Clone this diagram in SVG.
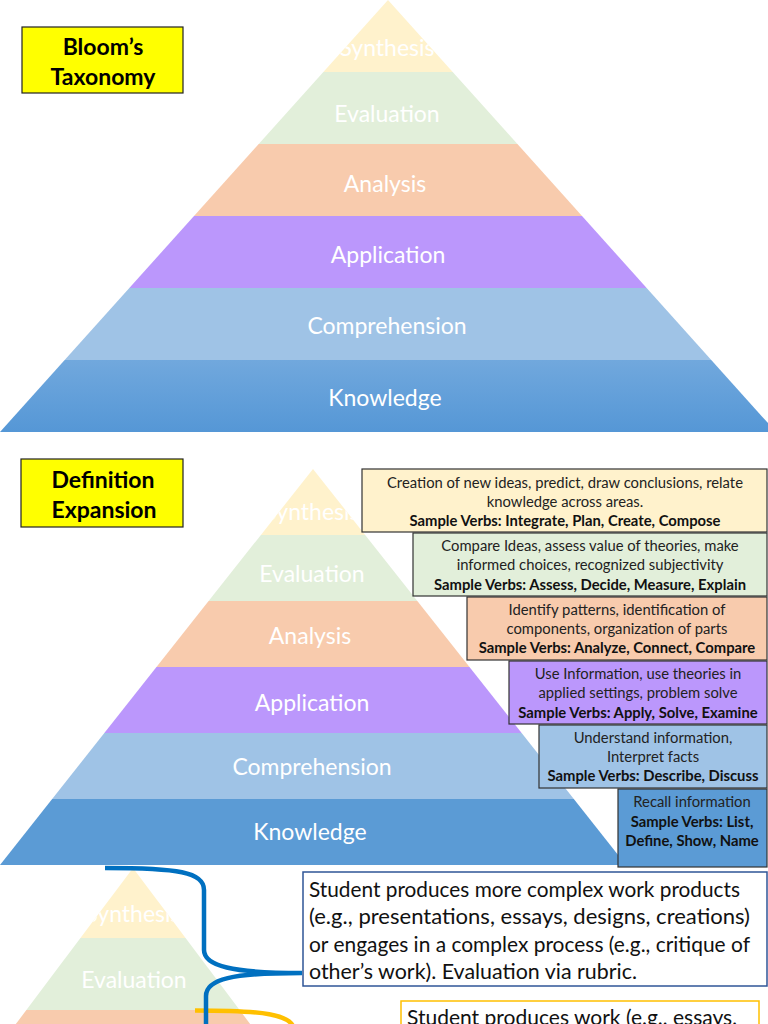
<svg xmlns="http://www.w3.org/2000/svg" width="768" height="1024" viewBox="0 0 768 1024">
<style>
.lbl{font-family:Lato,"Liberation Sans",sans-serif;font-size:23px;fill:#ffffff;text-anchor:middle}
.title{font-family:Lato,"Liberation Sans",sans-serif;font-size:23px;font-weight:bold;fill:#000;text-anchor:middle}
.tbox{fill:#ffff00;stroke:#222;stroke-width:1.2}
.dbox{stroke:#333;stroke-width:1.2}
.dt{font-family:Lato,"Liberation Sans",sans-serif;font-size:14.8px;fill:#222;text-anchor:middle}
.db{font-weight:bold;fill:#111}
.bt{font-family:Lato,"Liberation Sans",sans-serif;font-size:20.5px;fill:#111}
.syn{fill:#fff2cc}.eva{fill:#e2efda}.ana{fill:#f8cbad}.app{fill:#bb97fc}.com{fill:#9fc3e6}.kno{fill:#5b9bd5}
</style>
<defs>
<linearGradient id="kg" x1="0" y1="0" x2="0" y2="1"><stop offset="0" stop-color="#71a8dd"/><stop offset="1" stop-color="#5597d6"/></linearGradient>
<clipPath id="tri1"><polygon points="388,0 0,432 776,432"/></clipPath>
<clipPath id="tri2"><polygon points="313,469 0,865 626,865"/></clipPath>
<clipPath id="tri3"><polygon points="133,868 -60,1125 326,1125"/></clipPath>
</defs>
<rect width="768" height="1024" fill="#ffffff"/>

<!-- Section 1 -->
<g id="title1"><rect class="tbox" x="22" y="27" width="161" height="66"/><text class="title" x="103" y="55">Bloom’s</text><text class="title" x="103" y="85">Taxonomy</text></g>
<g id="pyramid1" clip-path="url(#tri1)">
<g id="p1-synthesis"><rect class="syn" x="0" y="0" width="768" height="72"/><text class="lbl" x="387" y="56">Synthesis</text></g>
<g id="p1-evaluation"><rect class="eva" x="0" y="72" width="768" height="72"/><text class="lbl" x="387" y="122">Evaluation</text></g>
<g id="p1-analysis"><rect class="ana" x="0" y="144" width="768" height="72"/><text class="lbl" x="385" y="192">Analysis</text></g>
<g id="p1-application"><rect class="app" x="0" y="216" width="768" height="72"/><text class="lbl" x="388" y="263">Application</text></g>
<g id="p1-comprehension"><rect class="com" x="0" y="288" width="768" height="72"/><text class="lbl" x="387" y="334">Comprehension</text></g>
<g id="p1-knowledge"><rect fill="url(#kg)" x="0" y="360" width="776" height="72"/><text class="lbl" x="385" y="406">Knowledge</text></g>
</g>

<!-- Section 2 -->
<g id="title2"><rect class="tbox" x="21" y="459" width="162" height="68"/><text class="title" x="103" y="488">Definition</text><text class="title" x="104" y="518">Expansion</text></g>
<g id="pyramid2" clip-path="url(#tri2)">
<g id="p2-synthesis"><rect class="syn" x="0" y="469" width="768" height="66"/><text class="lbl" x="312" y="520">Synthesis</text></g>
<g id="p2-evaluation"><rect class="eva" x="0" y="535" width="768" height="66"/><text class="lbl" x="312" y="582">Evaluation</text></g>
<g id="p2-analysis"><rect class="ana" x="0" y="601" width="768" height="66"/><text class="lbl" x="310" y="644">Analysis</text></g>
<g id="p2-application"><rect class="app" x="0" y="667" width="768" height="66"/><text class="lbl" x="312" y="711">Application</text></g>
<g id="p2-comprehension"><rect class="com" x="0" y="733" width="768" height="66"/><text class="lbl" x="312" y="775">Comprehension</text></g>
<g id="p2-knowledge"><rect class="kno" x="0" y="799" width="768" height="67"/><text class="lbl" x="310" y="840">Knowledge</text></g>
</g>
<g id="d-synthesis"><rect class="dbox syn" x="362" y="469" width="405" height="63"/>
<text class="dt" x="565" y="488">Creation of new ideas, predict, draw conclusions, relate</text>
<text class="dt" x="565" y="507">knowledge across areas.</text>
<text class="dt db" x="565" y="526">Sample Verbs: Integrate, Plan, Create, Compose</text></g>
<g id="d-evaluation"><rect class="dbox eva" x="413" y="533" width="354" height="63"/>
<text class="dt" x="590" y="551">Compare Ideas, assess value of theories, make</text>
<text class="dt" x="590" y="570">informed choices, recognized subjectivity</text>
<text class="dt db" x="590" y="590">Sample Verbs: Assess, Decide, Measure, Explain</text></g>
<g id="d-analysis"><rect class="dbox ana" x="467" y="597" width="300" height="63"/>
<text class="dt" x="617" y="615">Identify patterns, identification of</text>
<text class="dt" x="617" y="634">components, organization of parts</text>
<text class="dt db" x="617" y="653">Sample Verbs: Analyze, Connect, Compare</text></g>
<g id="d-application"><rect class="dbox app" x="509" y="661" width="258" height="63"/>
<text class="dt" x="638" y="679">Use Information, use theories in</text>
<text class="dt" x="638" y="698">applied settings, problem solve</text>
<text class="dt db" x="638" y="718">Sample Verbs: Apply, Solve, Examine</text></g>
<g id="d-comprehension"><rect class="dbox com" x="539" y="725" width="228" height="63"/>
<text class="dt" x="653" y="743">Understand information,</text>
<text class="dt" x="653" y="762">Interpret facts</text>
<text class="dt db" x="653" y="781">Sample Verbs: Describe, Discuss</text></g>
<g id="d-knowledge"><rect class="dbox kno" x="618" y="789" width="149" height="78"/>
<text class="dt" x="692" y="807">Recall information</text>
<text class="dt db" x="692" y="827">Sample Verbs: List,</text>
<text class="dt db" x="692" y="846">Define, Show, Name</text></g>

<!-- Section 3 -->
<g id="pyramid3" clip-path="url(#tri3)">
<g id="p3-synthesis"><rect class="syn" x="0" y="866" width="400" height="72"/><text class="lbl" x="133" y="922">Synthesis</text></g>
<g id="p3-evaluation"><rect class="eva" x="0" y="938" width="400" height="72"/><text class="lbl" x="134" y="988">Evaluation</text></g>
<g id="p3-analysis"><rect class="ana" x="0" y="1010" width="400" height="80"/></g>
</g>
<g id="connectors" fill="none" stroke-linecap="butt">
<path d="M195,1010.5 C262,1010.5 293,1014 294,1030" stroke="#ffc000" stroke-width="4.5"/>
<path d="M105,868 C178,868 204,872 204,890 L204,950 C204,966 232,973 302,973 C232,973 206,979 206,996 L206,1030" stroke="#0070c0" stroke-width="4.5"/>
</g>
<g id="b-complex"><rect x="303" y="872" width="464" height="114" fill="#ffffff" stroke="#2f5597" stroke-width="1.5"/>
<text class="bt" x="309" y="897" textLength="431" lengthAdjust="spacingAndGlyphs">Student produces more complex work products</text>
<text class="bt" x="309" y="924" textLength="441" lengthAdjust="spacingAndGlyphs">(e.g., presentations, essays, designs, creations)</text>
<text class="bt" x="309" y="952" textLength="441" lengthAdjust="spacingAndGlyphs">or engages in a complex process (e.g., critique of</text>
<text class="bt" x="309" y="979" textLength="328" lengthAdjust="spacingAndGlyphs">other’s work). Evaluation via rubric.</text></g>
<g id="b-work"><rect x="401" y="1001" width="358" height="40" fill="#ffffff" stroke="#ffc000" stroke-width="1.5"/>
<text class="bt" x="407" y="1025" textLength="330" lengthAdjust="spacingAndGlyphs">Student produces work (e.g., essays,</text></g>
</svg>
